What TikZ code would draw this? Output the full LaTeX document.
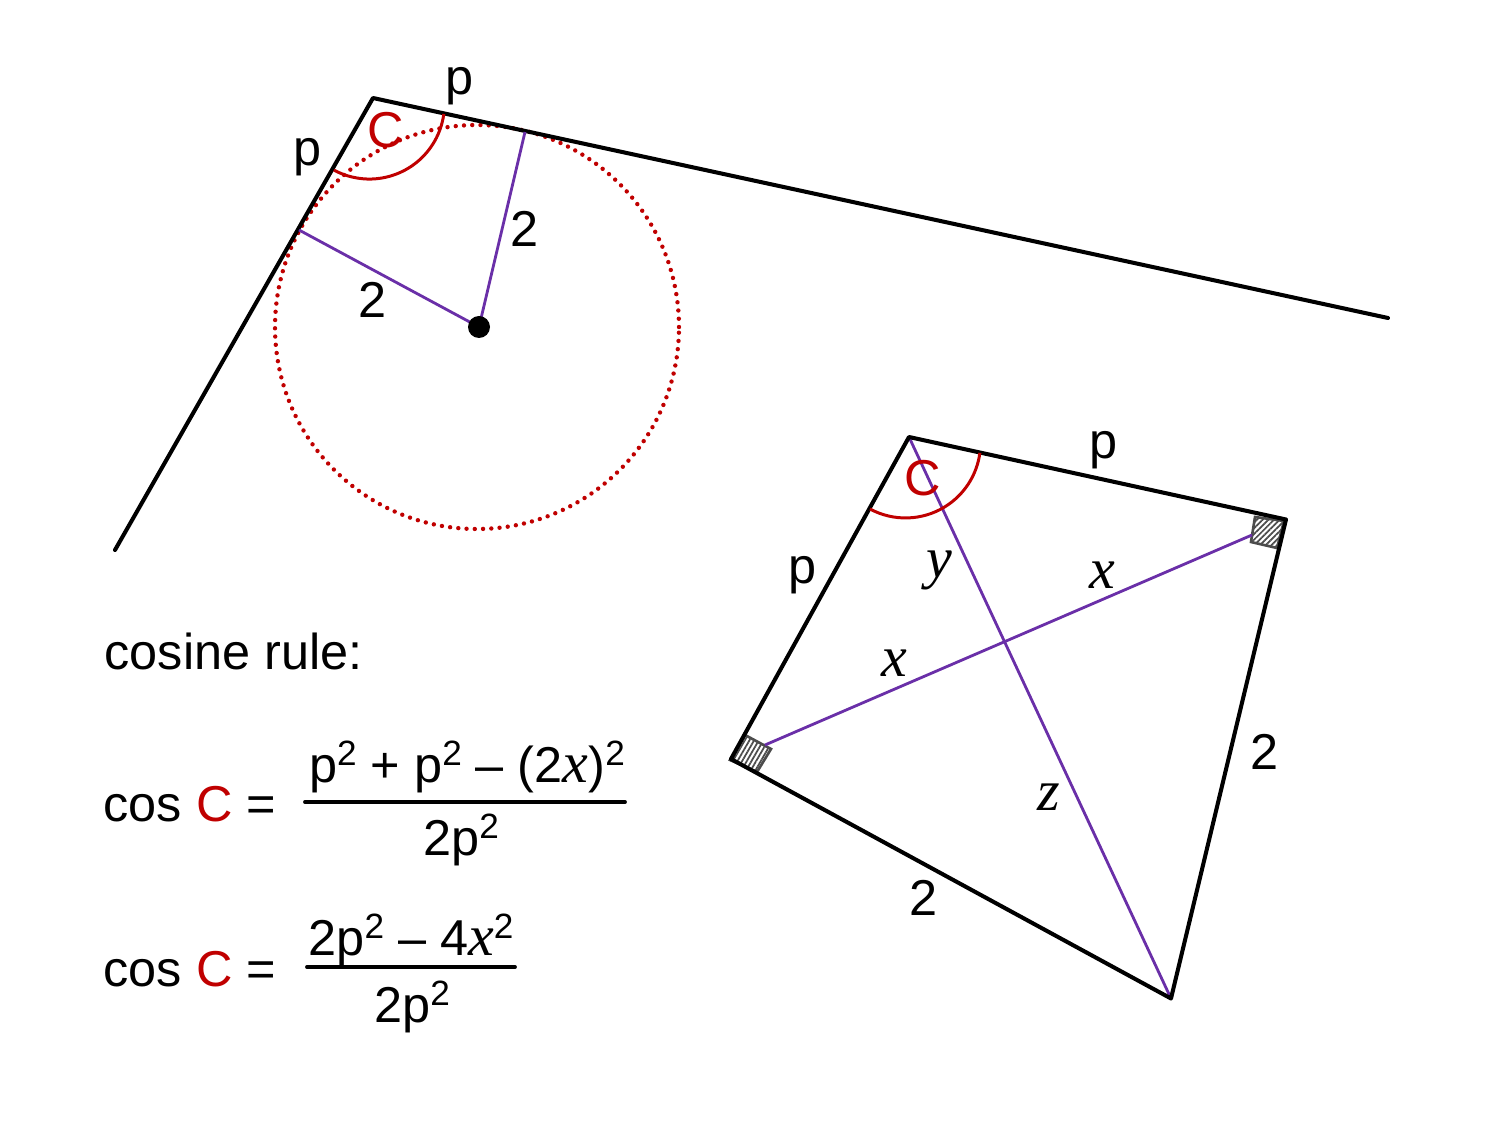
\documentclass[tikz,border=0pt]{standalone}
\usepackage{fontspec}
\setmainfont{Liberation Sans}
\newfontfamily\timesfont{Liberation Serif}
\usetikzlibrary{patterns.meta}
\definecolor{angred}{HTML}{C00000}
\definecolor{diagpurple}{HTML}{6A2FA8}
\def\sq{\raisebox{4.6pt}{\fontsize{10}{11}\selectfont 2}}
\def\ivar#1{{\timesfont\itshape #1}}
\def\eqvar#1{{\fontsize{16.5}{17}\selectfont\timesfont\itshape #1}}
\tikzset{
	side/.style={line width=1.15pt, line cap=round, line join=round},
	diag/.style={line width=0.8pt, color=diagpurple},
	angarc/.style={line width=0.85pt, color=angred},
	rightmark/.style={line width=0.75pt, draw=black!70, pattern={Lines[angle=45,distance=1.15pt,line width=0.5pt]}, pattern color=black!70},
	fracbar/.style={line width=1.1pt, line cap=round},
	lbl/.style={font=\fontsize{14.35}{17}\selectfont, inner sep=0pt, anchor=base},
	lblleft/.style={lbl, anchor=base west},
	varlbl/.style={font=\fontsize{16.5}{20}\selectfont, inner sep=0pt, anchor=base},
}
\begin{document}
\begin{tikzpicture}
	\useasboundingbox (0, 0) rectangle (15, 11.25);
	%%%%% TOP FIGURE %%%%%
	\coordinate (apex) at (3.73, 10.27);
	\coordinate (leftend) at (1.15, 5.75);
	\coordinate (rightend) at (13.88, 8.07);
	\coordinate (centre) at (4.79, 7.98);
	\coordinate (touchleft) at (2.99, 8.95);
	\coordinate (touchright) at (5.25, 9.93);
	
	\draw[color=angred, line width=1.25pt, line cap=round, dash pattern=on 0pt off 2.35pt] (4.77, 7.98) circle (2.02);
	\draw[side] (leftend) -- (apex) -- (rightend);
	\draw[diag] (touchleft) -- (centre) -- (touchright);
	\fill (centre) circle (0.11);
	\draw[angarc] (3.339, 9.549) arc (241.7:352.4:0.75);
	
	\node[lbl] (ptop) at (4.60, 10.30) {p};
	\node[lbl] (pleft) at (3.08, 9.59) {p};
	\node[lbl, text=angred] (ctop) at (3.86, 9.77) {C};
	\node[lbl] (rtop) at (5.25, 8.78) {2};
	\node[lbl] (rleft) at (3.73, 8.07) {2};
	
	%%%%% KITE %%%%%
	\coordinate (kitetop) at (9.09, 6.88);
	\coordinate (kiteright) at (12.86, 6.055);
	\coordinate (kitebottom) at (11.71, 1.265);
	\coordinate (kiteleft) at (7.31, 3.66);
	\coordinate (markright) at (12.52, 5.90);
	\coordinate (markleft) at (7.65, 3.80);
	
	\draw[rightmark] (12.84, 6.04) -- (12.55, 6.08) -- (12.51, 5.83) -- (12.77, 5.77) -- cycle;
	\draw[rightmark, pattern={Lines[angle=60,distance=1.15pt,line width=0.5pt]}] (7.30, 3.65) -- (7.45, 3.90) -- (7.71, 3.76) -- (7.57, 3.53) -- cycle;
	\draw[diag] (kitetop) -- (kitebottom);
	\draw[diag] (markleft) -- (markright);
	\draw[side] (kitetop) -- (kiteright) -- (kitebottom) -- (kiteleft) -- cycle;
	\draw[angarc] (8.70, 6.16) arc (241.7:352.4:0.75);
	
	\node[lbl] (ptopkite) at (11.04, 6.66) {p};
	\node[lbl] (pleftkite) at (8.03, 5.41) {p};
	\node[lbl, text=angred] (ckite) at (9.23, 6.29) {C};
	\node[lbl] (rright) at (12.65, 3.55) {2};
	\node[lbl] (rbottom) at (9.24, 2.09) {2};
	\node[varlbl] (xupper) at (11.02, 5.36) {\ivar{x}};
	\node[varlbl] (xlower) at (8.94, 4.48) {\ivar{x}};
	\node[varlbl] (yvar) at (9.39, 5.47) {\ivar{y}};
	\node[varlbl] (zvar) at (10.49, 3.15) {\ivar{z}};
	
	%%%%% EQUATIONS %%%%%
	\node[lblleft] (rulename) at (1.04, 4.55) {cosine rule:};
	
	\node[lblleft] (cosone) at (1.03, 3.03) {cos \textcolor{angred}{C} =};
	\node[lbl] (numone) at (4.67, 3.43) {p\sq{} + p\sq{} – (2\eqvar{x})\sq};
	\node[lbl] (denone) at (4.61, 2.70) {2p\sq};
	\draw[fracbar] (3.05, 3.23) -- (6.25, 3.23);
	
	\node[lblleft] (costwo) at (1.03, 1.38) {cos \textcolor{angred}{C} =};
	\node[lbl] (numtwo) at (4.11, 1.70) {2p\sq{} – 4\eqvar{x}\sq};
	\node[lbl] (dentwo) at (4.12, 1.03) {2p\sq};
	\draw[fracbar] (3.07, 1.58) -- (5.15, 1.58);
\end{tikzpicture}
\end{document}
